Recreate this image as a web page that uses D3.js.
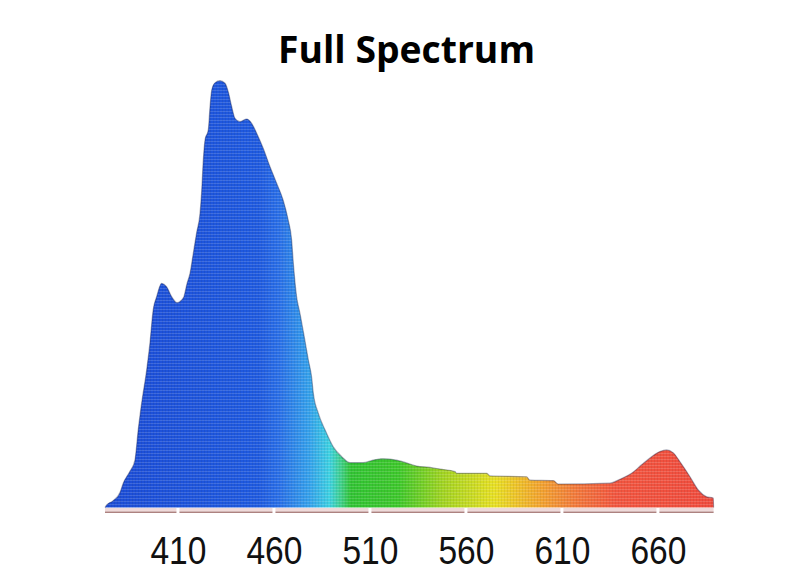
<!DOCTYPE html>
<html>
<head>
<meta charset="utf-8">
<script src="https://cdn.jsdelivr.net/npm/d3@7"></script>
<style>
  html, body { margin: 0; padding: 0; background: #fff; }
  svg { display: block; }
</style>
</head>
<body>
<script>
// spectrum: wavelength (nm) and relative intensity (peak = 100)
const wavelengths = [372, 372.9, 376, 379.8, 381.5, 385, 387.6, 389.3, 391.1, 393.7, 395.4, 397.1, 398.9,
  401.5, 404.1, 406.7, 409.5, 412.8, 414.8, 416.3, 418, 419.7, 421.5, 422.3, 423.2, 424.1, 425.8,
  426.7, 427.6, 429.3, 431.9, 434.5, 436.2, 438, 439.7, 442.3, 445.8, 448.4, 451, 454.4, 457.9,
  461.4, 464.8, 467.4, 469.2, 470.1, 471.8, 473.5, 476.1, 477.9, 479.6, 480.5, 483.1, 486.6,
  490.9, 495.3, 499.6, 506.4, 511.6, 516.8, 523.9, 530.8, 534.3, 541.3, 546.5, 554.3, 555.2,
  570.8, 572.5, 591.6, 593.3, 605.5, 608.1, 635, 640.2, 646.3, 651.5, 656.7, 661, 664.5, 668,
  671.5, 676.7, 681, 685.4, 688.8, 689];
const intensity = [0, 0.6, 1.5, 3.5, 5.7, 8.5, 11.1, 18.2, 24.5, 32.2, 38.5, 46.3, 49.4,
  52.5, 51.7, 49.4, 48.0, 49.1, 52.6, 54.9, 59.6, 64.3, 69.0, 73.7, 81.4, 86.1, 88.5,
  93.9, 97.8, 99.5, 100, 99.4, 97.4, 93.9, 91.2, 90.4, 91.0, 90.0, 87.7, 84.2, 79.9,
  76.0, 72.0, 67.4, 62.7, 57.2, 49.4, 45.6, 39.2, 34.6, 30.6, 26.8, 22.1, 18.2,
  14.2, 11.9, 10.5, 10.5, 11.1, 11.4, 11.1, 10.2, 9.7, 9.4, 9.0, 8.4, 8.0,
  8.0, 7.4, 7.2, 6.4, 6.3, 5.5, 5.7, 6.6, 8.0, 10.0, 11.9, 13.1, 13.5, 12.8,
  10.7, 7.2, 4.1, 2.5, 2.2, 0];
const tickLabels = [410, 460, 510, 560, 610, 660];
const colorStopNm = [372, 452, 463, 479, 489, 495, 500, 525, 548, 575, 596, 617, 638, 689];
const colorStopHex = ["#1d4dd6", "#1f5ae0", "#2a70e8", "#35a4ec", "#3ed2e2", "#40d08a", "#32c434",
  "#3ec82c", "#a2d422", "#e8e024", "#f2aa2e", "#f27a3c", "#f25640", "#f04c3e"];

const title = "Full Spectrum";

const width = 810, height = 579;
const data = wavelengths.map((w, i) => ({ nm: w, v: intensity[i] }));

const x = d3.scaleLinear().domain([372, 689]).range([105, 713.6]);
const y = d3.scaleLinear().domain([0, 100]).range([507.5, 80.7]);

const svg = d3.select("body").append("svg")
  .attr("width", width).attr("height", height)
  .attr("viewBox", [0, 0, width, height]);

const defs = svg.append("defs");
defs.append("linearGradient")
  .attr("id", "spectrum")
  .attr("gradientUnits", "userSpaceOnUse")
  .attr("x1", x.range()[0]).attr("x2", x.range()[1])
  .attr("y1", 0).attr("y2", 0)
  .selectAll("stop")
  .data(colorStopNm)
  .join("stop")
  .attr("offset", d => (x(d) - x.range()[0]) / (x.range()[1] - x.range()[0]))
  .attr("stop-color", (d, i) => colorStopHex[i]);

// fine led-grid texture
const pat = defs.append("pattern")
  .attr("id", "grid")
  .attr("patternUnits", "userSpaceOnUse")
  .attr("width", 3).attr("height", 3);
pat.append("rect").attr("width", 3).attr("height", 1).attr("fill", "#fff").attr("opacity", 0.15);
pat.append("rect").attr("width", 1).attr("height", 3).attr("fill", "#000").attr("opacity", 0.06);

const area = d3.area()
  .x(d => x(d.nm))
  .y0(y(0))
  .y1(d => y(d.v))
  .curve(d3.curveMonotoneX);

const line = d3.line()
  .x(d => x(d.nm))
  .y(d => y(d.v))
  .curve(d3.curveMonotoneX);

svg.append("path")
  .datum(data)
  .attr("d", area)
  .attr("fill", "url(#spectrum)");

svg.append("path")
  .datum(data)
  .attr("d", area)
  .attr("fill", "url(#grid)");

svg.append("path")
  .datum(data)
  .attr("d", line)
  .attr("fill", "none")
  .attr("stroke", "#101840")
  .attr("stroke-opacity", 0.35)
  .attr("stroke-width", 1.2);

// baseline strip, broken at each tick
const edges = [x.domain()[0], ...tickLabels, x.domain()[1]];
const segs = d3.pairs(edges);
const segX = (d, i) => x(d[0]) + (i ? 1.5 : 0);
const segW = (d, i) => x(d[1]) - x(d[0]) - (i ? 1.5 : 0) - (i < segs.length - 1 ? 1.5 : 0);
const base = svg.append("g").attr("class", "baseline");
base.selectAll("rect.band")
  .data(segs)
  .join("rect")
  .attr("class", "band")
  .attr("x", segX)
  .attr("width", segW)
  .attr("y", 508)
  .attr("height", 3.5)
  .attr("fill", "#eed9d9");
base.selectAll("rect.edge")
  .data(segs)
  .join("rect")
  .attr("class", "edge")
  .attr("x", segX)
  .attr("width", segW)
  .attr("y", 511.5)
  .attr("height", 1.5)
  .attr("fill", "#ad8280");

const xAxis = d3.axisBottom(x)
  .tickValues(tickLabels)
  .tickSize(0)
  .tickPadding(0)
  .tickFormat(d3.format("d"));

const gX = svg.append("g")
  .attr("class", "axis")
  .call(xAxis);
gX.select(".domain").remove();
gX.selectAll("text")
  .attr("y", 564)
  .attr("dy", null)
  .attr("fill", "#111")
  .attr("font-family", "'Liberation Sans', Arial, sans-serif")
  .attr("font-size", 38)
  .attr("textLength", 56)
  .attr("lengthAdjust", "spacingAndGlyphs");

svg.append("text")
  .attr("x", 406.5)
  .attr("y", 63)
  .attr("text-anchor", "middle")
  .attr("font-family", "'Open Sans', 'Noto Sans', sans-serif")
  .attr("font-weight", 700)
  .attr("font-size", 38)
  .attr("textLength", 257)
  .attr("lengthAdjust", "spacingAndGlyphs")
  .attr("fill", "#000")
  .text(title);
</script>
</body>
</html>
